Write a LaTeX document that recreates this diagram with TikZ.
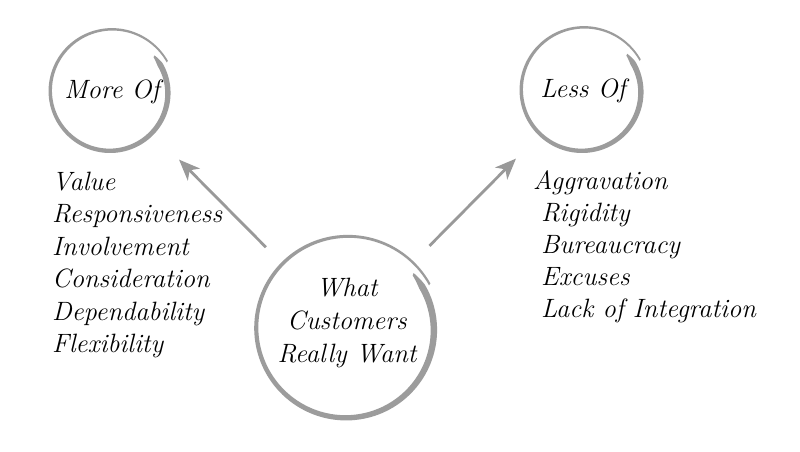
\documentclass[tikz,border=0pt]{standalone}
\usetikzlibrary{arrows.meta}
\definecolor{ringgray}{HTML}{9C9C9C}
\definecolor{arrowgray}{HTML}{999999}
\newcommand{\brushring}[4]{% cx, cy, r, width factor
  \begin{scope}[shift={(#1,#2)}]
    \fill[ringgray]
      plot[domain=0:1,samples=150,variable=\t]
        ({40-372*\t}:{#3-3+8*\t+0.5*#4*(1.8+4*(1-\t))*min(1,\t*25+0.3)})
      -- plot[domain=1:0,samples=150,variable=\t]
        ({40-372*\t}:{#3-3+8*\t-0.5*#4*(1.8+4*(1-\t))*min(1,\t*25+0.3)})
      -- cycle;
  \end{scope}}
\begin{document}
\begin{tikzpicture}[x=1pt,y=1pt,
  ringlabel/.style={circle,inner sep=0pt,font=\fontsize{26.5}{33}\selectfont\itshape,align=center},
  item/.style={anchor=base west,inner sep=0pt,font=\fontsize{26.5}{30}\selectfont\itshape},
  bigarrow/.style={draw=arrowgray,line width=2.8pt,-{Stealth[length=21pt,width=17pt,inset=6pt]}}]
\useasboundingbox (0,0) rectangle (800,-451);
\fill[white] (0,0) rectangle (800,-451);

% rings
\brushring{111}{-92}{59}{1}
\brushring{583}{-91}{60}{1}
\brushring{347}{-329}{89}{1.2}

% ring labels (circle nodes of ring size)
\node[ringlabel,minimum size=118pt] (more) at (112,-92) {More Of};
\node[ringlabel,minimum size=120pt] (less) at (583,-91) {Less Of};
\node[ringlabel,minimum size=178pt] (want) at (347,-329) {};
\node[ringlabel] (wanttxt) at (347,-323) {What\\Customers\\Really Want};

% arrows
\draw[bigarrow,shorten <=26pt,shorten >=36pt] (want) -- (more);
\draw[bigarrow,shorten <=28pt,shorten >=35pt] (want) -- (less);

% left list
\node[item] (l1) at (52,-190) {Value};
\node[item] (l2) at (52,-222.5) {Responsiveness};
\node[item] (l3) at (52,-255) {Involvement};
\node[item] (l4) at (52,-287.5) {Consideration};
\node[item] (l5) at (52,-320) {Dependability};
\node[item] (l6) at (52,-352.5) {Flexibility};

% right list
\node[item] (r1) at (533,-189) {Aggravation};
\node[item] (r2) at (541,-221) {Rigidity};
\node[item] (r3) at (541,-253) {Bureaucracy};
\node[item] (r4) at (541,-285) {Excuses};
\node[item] (r5) at (541,-317) {Lack of Integration};
\end{tikzpicture}
\end{document}
